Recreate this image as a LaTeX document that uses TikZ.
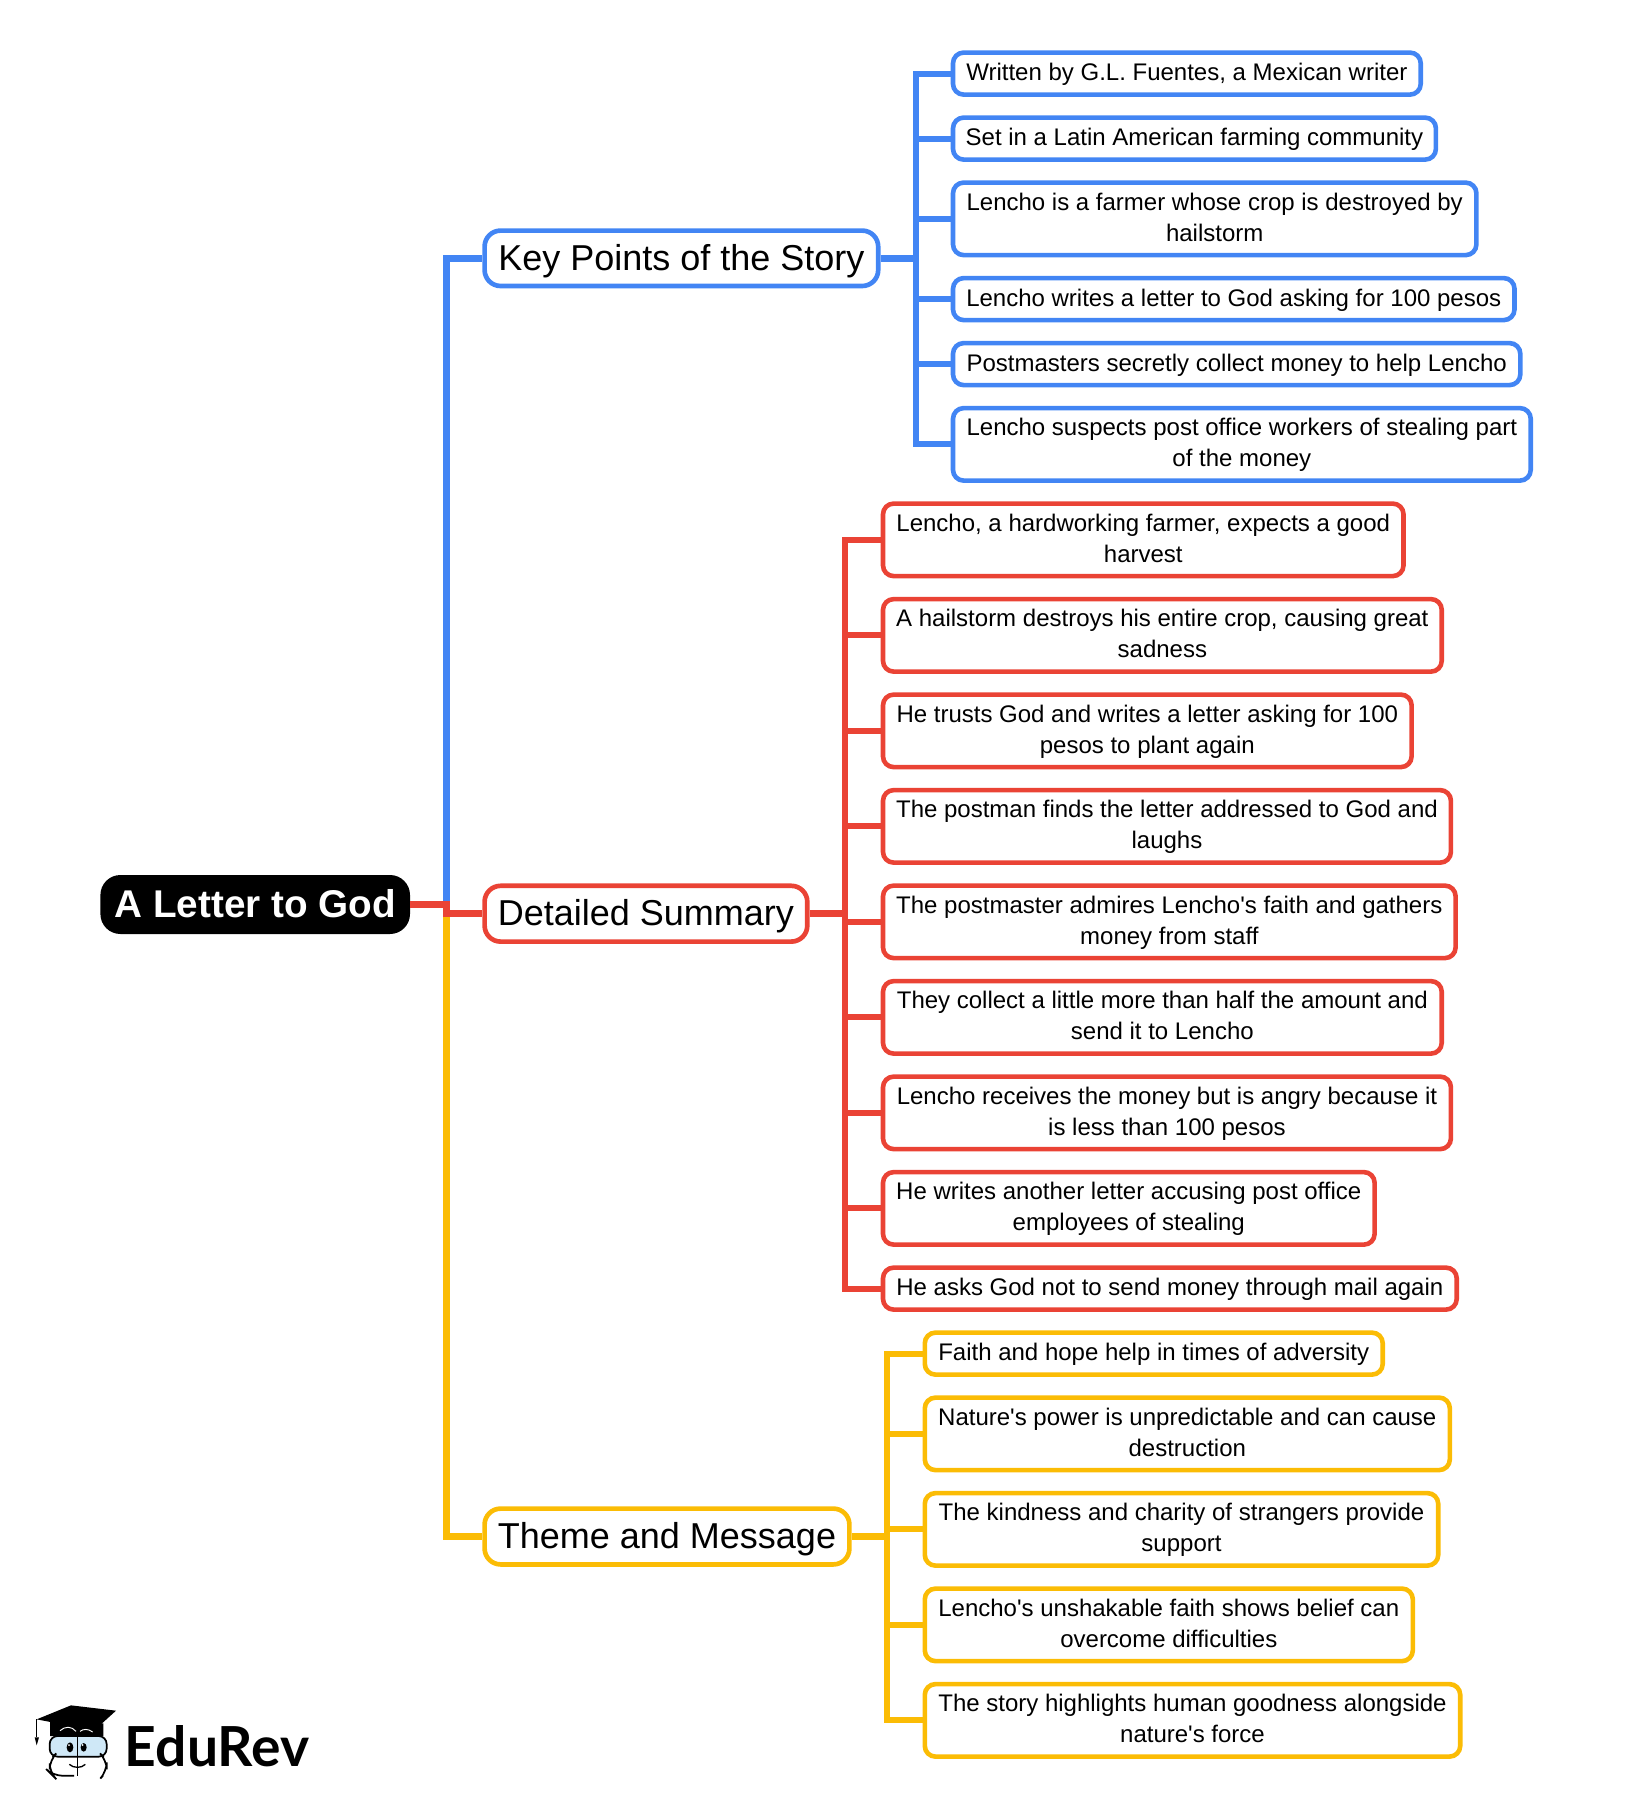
\documentclass[tikz,border=0pt]{standalone}
\usepackage{fontspec}
\setmainfont{Liberation Sans}[Ligatures=TeXOff]
\newfontfamily\logofont{Lato}
\definecolor{gblue}{HTML}{4285F4}
\definecolor{gred}{HTML}{EA4335}
\definecolor{gyellow}{HTML}{FBBC05}
\definecolor{glass}{HTML}{CFE8F7}
\def\uu{0.75pt}
\newcommand{\oneln}[1]{\rule[-5pt]{0pt}{21pt}#1}
\newcommand{\twoln}[2]{\rule{0pt}{15.3pt}#1\\#2\rule[-5pt]{0pt}{5pt}}
\newcommand{\midstrut}{\rule[-8.4pt]{0pt}{34.4pt}}
\newcommand{\rootstrut}{\rule[-7pt]{0pt}{34pt}}
\tikzset{
  leafbox/.style={draw=#1,line width=3.45pt,rounded corners=8pt,inner sep=0pt,align=center,
    font=\fontsize{18}{23.3}\selectfont},
  midbox/.style={draw=#1,line width=3.5pt,rounded corners=12pt,inner sep=0pt,align=center,
    font=\fontsize{27}{32}\selectfont,execute at begin node=\midstrut},
  rootbox/.style={fill=black,text=white,rounded corners=15pt,inner sep=0pt,
    font=\fontsize{29}{34}\selectfont\bfseries,execute at begin node=\rootstrut},
  trunkline/.style={draw=#1,line width=4.4pt},
  stemline/.style={draw=#1,line width=5pt},
}
% name, style, left, top, right, height (outer edges, px), text
\newcommand{\placebox}[7]{%
  \node[#2,minimum width={(#5-#3-4.6)*\uu},minimum height={(#6-4.6)*\uu}]
    (#1) at ({(#3+#5)/2},{#4+#6/2}) {#7};}
\begin{document}
\begin{tikzpicture}[x=\uu,y=-\uu]
\useasboundingbox (0,0) rectangle (1633,1810);
% root and main branches
\node[rootbox,minimum width={309.6*\uu},minimum height={59*\uu}] (root) at (255.2,904.5) {A Letter to God};
\placebox{kp}{midbox=gblue}{482.3}{228.3}{880.5}{60}{Key Points of the Story}
\placebox{ds}{midbox=gred}{482.3}{883.5}{809.6}{60.4}{Detailed Summary}
\placebox{tm}{midbox=gyellow}{482.3}{1506.3}{851.7}{60.4}{Theme and Message}
% blue leaves
\placebox{b1}{leafbox=gblue}{950.7}{50.3}{1423}{46.6}{\oneln{Written by G.L. Fuentes, a Mexican writer}}
\placebox{b2}{leafbox=gblue}{950.7}{115.3}{1438.2}{46.6}{\oneln{Set in a Latin American farming community}}
\placebox{b3}{leafbox=gblue}{950.7}{180.3}{1478.7}{77.1}{\twoln{Lencho is a farmer whose crop is destroyed by}{hailstorm}}
\placebox{b4}{leafbox=gblue}{950.7}{275.8}{1516.8}{46.6}{\oneln{Lencho writes a letter to God asking for 100 pesos}}
\placebox{b5}{leafbox=gblue}{950.7}{340.8}{1522.6}{46.6}{\oneln{Postmasters secretly collect money to help Lencho}}
\placebox{b6}{leafbox=gblue}{950.7}{405.8}{1533}{77.1}{\twoln{Lencho suspects post office workers of stealing part}{of the money}}
% red leaves
\placebox{r1}{leafbox=gred}{880.7}{501.3}{1405.8}{77.1}{\twoln{Lencho, a hardworking farmer, expects a good}{harvest}}
\placebox{r2}{leafbox=gred}{880.7}{596.8}{1444}{77.1}{\twoln{A hailstorm destroys his entire crop, causing great}{sadness}}
\placebox{r3}{leafbox=gred}{880.7}{692.3}{1413.9}{77.1}{\twoln{He trusts God and writes a letter asking for 100}{pesos to plant again}}
\placebox{r4}{leafbox=gred}{880.7}{787.8}{1453.2}{77.1}{\twoln{The postman finds the letter addressed to God and}{laughs}}
\placebox{r5}{leafbox=gred}{880.7}{883.3}{1457.9}{77.1}{\twoln{The postmaster admires Lencho's faith and gathers}{money from staff}}
\placebox{r6}{leafbox=gred}{880.7}{978.8}{1444}{77.1}{\twoln{They collect a little more than half the amount and}{send it to Lencho}}
\placebox{r7}{leafbox=gred}{880.7}{1074.3}{1453.2}{77.1}{\twoln{Lencho receives the money but is angry because it}{is less than 100 pesos}}
\placebox{r8}{leafbox=gred}{880.7}{1169.8}{1376.9}{77.1}{\twoln{He writes another letter accusing post office}{employees of stealing}}
\placebox{r9}{leafbox=gred}{880.7}{1265.3}{1459}{46.6}{\oneln{He asks God not to send money through mail again}}
% yellow leaves
\placebox{y1}{leafbox=gyellow}{922.5}{1330.3}{1385}{46.6}{\oneln{Faith and hope help in times of adversity}}
\placebox{y2}{leafbox=gyellow}{922.5}{1395.3}{1452.1}{77.1}{\twoln{Nature's power is unpredictable and can cause}{destruction}}
\placebox{y3}{leafbox=gyellow}{922.5}{1490.8}{1440.5}{77.1}{\twoln{The kindness and charity of strangers provide}{support}}
\placebox{y4}{leafbox=gyellow}{922.5}{1586.3}{1415.1}{77.1}{\twoln{Lencho's unshakable faith shows belief can}{overcome difficulties}}
\placebox{y5}{leafbox=gyellow}{922.5}{1681.8}{1462.5}{77.1}{\twoln{The story highlights human goodness alongside}{nature's force}}
% junctions
\coordinate (jroot) at (446.5,904.5);
\coordinate (jds) at (446.5,913.7);
\coordinate (jb) at (915.7,258.3);
\coordinate (jr) at (845.3,913.7);
\coordinate (jy) at (887.3,1536.5);
% first level connectors
\draw[stemline=gblue] (jroot) |- (kp.west);
\draw[stemline=gyellow] (jds) |- (tm.west);
\draw[stemline=gred] (root.east) -- (jroot) |- (ds.west);
% blue connectors
\draw[stemline=gblue] (kp.east) -- (jb);
\foreach \n in {b1,b2,b3,b4,b5,b6} \draw[trunkline=gblue] (jb) |- (\n.west);
% red connectors
\draw[stemline=gred] (ds.east) -- (jr);
\foreach \n in {r1,r2,r3,r4,r5,r6,r7,r8,r9} \draw[trunkline=gred] (jr) |- (\n.west);
% yellow connectors
\draw[stemline=gyellow] (tm.east) -- (jy);
\foreach \n in {y1,y2,y3,y4,y5} \draw[trunkline=gyellow] (jy) |- (\n.west);
% logo
\begin{scope}[shift={(0,1660)},x=0.25pt,y=-0.25pt]
  \fill (150,185) -- (150,228) -- (310,228) -- (310,190) -- cycle;
  \fill (110,178) -- (213,136) -- (348,152) -- (283,211) -- cycle;
  \draw[line width=0.8pt] (110,178) -- (110,232);
  \fill (104,232) -- (117,232) -- (110,256) -- cycle;
  \draw[white,line width=0.7pt] (180,212) .. controls (195,198) and (215,198) .. (228,214);
  \draw[white,line width=0.7pt] (240,214) .. controls (250,206) and (265,206) .. (278,216);
  \draw[fill=glass,line width=1.3pt,rounded corners=6pt] (149,228) rectangle (320,290);
  \draw[line width=1.3pt,rounded corners=7pt] (222,347) -- (158,347) -- (149,338) -- (149,300) -- (158,291);
  \draw[line width=1.3pt,rounded corners=7pt] (309,347) -- (320,335) -- (320,300) -- (311,291);
  \draw[line width=1.1pt] (233,226) -- (233,348);
  \draw[line width=1.1pt] (216,230) -- (233,230);
  \fill (210,262) ellipse (10 and 15);
  \fill (251,262) ellipse (9 and 13);
  \fill[white] (207,255) circle (3);
  \fill[white] (248,255) circle (3);
  \draw[line width=1pt] (208,313) .. controls (220,325) and (245,325) .. (256,313);
  \node[font=\logofont\bfseries\fontsize{41.4}{41.4}\selectfont,anchor=base west,inner sep=0pt] (logo) at (374,320) {EduRev};
\end{scope}
\end{tikzpicture}
\end{document}
